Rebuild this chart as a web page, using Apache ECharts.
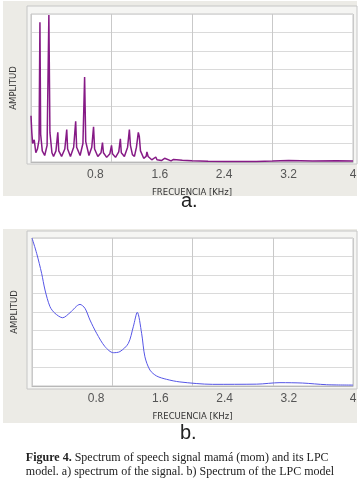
<!DOCTYPE html>
<html>
<head>
<meta charset="utf-8">
<script src="https://cdn.jsdelivr.net/npm/echarts@6/dist/echarts.min.js"></script>
<style>
  html, body { margin: 0; padding: 0; background: #fff; }
  #main { width: 360px; height: 486px; }
</style>
</head>
<body>
<div id="main"></div>
<script>
// a) spectrum of the signal (kHz, amplitude)
var freqA = [0, 0.01, 0.02, 0.04, 0.06, 0.08, 0.1, 0.111, 0.12, 0.14, 0.17, 0.2, 0.222, 0.235, 0.26, 0.28,
  0.31, 0.333, 0.345, 0.38, 0.42, 0.444, 0.455, 0.49, 0.53, 0.555, 0.567, 0.61, 0.645, 0.666, 0.68, 0.72,
  0.755, 0.777, 0.79, 0.83, 0.87, 0.888, 0.9, 0.94, 0.98, 1.0, 1.012, 1.05, 1.09, 1.11, 1.122, 1.16,
  1.2, 1.222, 1.235, 1.26, 1.285, 1.31, 1.333, 1.345, 1.36, 1.4, 1.43, 1.44, 1.455, 1.5, 1.55, 1.565,
  1.62, 1.66, 1.675, 1.74, 1.77, 1.79, 1.88, 1.9, 2.0, 2.2, 2.4, 2.8, 3.0, 3.2, 3.5, 3.8, 4.0];
var ampA = [2.5, 1.6, 1.0, 1.2, 0.5, 0.7, 1.2, 7.55, 1.5, 0.6, 0.35, 0.9, 7.95, 1.6, 0.5, 0.3,
  0.6, 1.6, 0.6, 0.3, 0.7, 1.75, 0.7, 0.3, 0.8, 2.2, 0.8, 0.35, 1.0, 4.6, 1.1, 0.35,
  0.8, 1.9, 0.7, 0.3, 0.5, 1.05, 0.5, 0.25, 0.45, 0.9, 0.45, 0.25, 0.55, 1.25, 0.5, 0.3,
  0.8, 1.75, 0.9, 0.4, 0.3, 0.8, 1.6, 1.4, 0.6, 0.2, 0.3, 0.55, 0.3, 0.12, 0.27, 0.12,
  0.08, 0.2, 0.1, 0.06, 0.14, 0.06, 0.1, 0.05, 0.07, 0.04, 0.03, 0.03, 0.05, 0.08, 0.06, 0.07, 0.05];

// b) spectrum of the LPC model
var freqB = [0, 0.058, 0.12, 0.162, 0.224, 0.286, 0.382, 0.473, 0.598, 0.66, 0.722, 0.805, 0.909,
  1.013, 1.096, 1.2, 1.262, 1.312, 1.366, 1.407, 1.47, 1.553, 1.677, 1.843, 2.25, 2.8, 3.09, 3.37, 3.67, 4.0];
var ampB = [8.0, 7.17, 6.09, 5.19, 4.29, 3.93, 3.69, 3.96, 4.41, 4.2, 3.57, 2.85, 2.13,
  1.8, 1.86, 2.3, 3.2, 3.98, 2.85, 1.58, 0.86, 0.54, 0.36, 0.22, 0.09, 0.1, 0.18, 0.16, 0.07, 0.05];

var xLabels = [0.8, 1.6, 2.4, 3.2, 4];

function zip(xs, ys) {
  return xs.map(function (x, i) { return [x, ys[i]]; });
}

var labelFont = 'Liberation Sans Narrow, Liberation Sans, sans-serif';

function labelAxis(idx) {
  return {
    gridIndex: idx, type: 'value', min: 0, max: 4, interval: 0.8,
    axisLine: { show: true, lineStyle: { color: '#b8b8b8' } },
    axisTick: { show: false },
    splitLine: { show: false },
    axisLabel: {
      color: '#555', fontSize: 12, fontFamily: labelFont, margin: 7,
      formatter: function (v) {
        var r = Math.round(v * 10) / 10;
        return xLabels.indexOf(r) >= 0 ? String(r) : '';
      }
    },
    name: 'FRECUENCIA [KHz]', nameLocation: 'middle', nameGap: 26,
    nameTextStyle: { color: '#333', fontSize: 8.5, fontFamily: 'DejaVu Sans' }
  };
}
function gridAxis(idx) {
  return {
    gridIndex: idx, type: 'value', min: 0, max: 4, interval: 1,
    axisLine: { show: false }, axisTick: { show: false }, axisLabel: { show: false },
    splitLine: { show: true, lineStyle: { color: '#c9c9c9', width: 1 } }
  };
}
function yAxis(idx) {
  return {
    gridIndex: idx, type: 'value', min: 0, max: 8, interval: 1,
    axisLine: { show: false }, axisTick: { show: false }, axisLabel: { show: false },
    splitLine: { show: true, lineStyle: { color: '#dadada', width: 1 } },
    name: 'AMPLITUD', nameLocation: 'middle', nameRotate: 90, nameGap: 13,
    nameTextStyle: { color: '#333', fontSize: 8.5, fontFamily: 'DejaVu Sans' }
  };
}

var option = {
  animation: false,
  backgroundColor: '#fff',
  grid: [
    { left: 31, top: 14, width: 322, height: 148, show: true, backgroundColor: '#fff', borderColor: '#c4c4c4', borderWidth: 1 },
    { left: 32, top: 238, width: 321, height: 148, show: true, backgroundColor: '#fff', borderColor: '#c4c4c4', borderWidth: 1 }
  ],
  xAxis: [labelAxis(0), gridAxis(0), labelAxis(1), gridAxis(1)],
  yAxis: [yAxis(0), yAxis(1)],
  graphic: [
    // grey panels and plot frames
    { type: 'rect', z: -10, shape: { x: 3, y: 1, width: 354, height: 195 }, style: { fill: '#ecebe6' } },
    { type: 'rect', z: -9, shape: { x: 27, y: 6, width: 330, height: 158 }, style: { fill: '#f5f5f3', stroke: '#c6c6c6', lineWidth: 1 } },
    { type: 'rect', z: -10, shape: { x: 3, y: 229, width: 354, height: 194 }, style: { fill: '#ecebe6' } },
    { type: 'rect', z: -9, shape: { x: 27, y: 231, width: 330, height: 158 }, style: { fill: '#f5f5f3', stroke: '#c6c6c6', lineWidth: 1 } },
    { type: 'text', left: 181, top: 191, style: { text: 'a.', fontSize: 20, fontFamily: 'Liberation Sans', fill: '#222' } },
    { type: 'text', left: 180, top: 423, style: { text: 'b.', fontSize: 20, fontFamily: 'Liberation Sans', fill: '#222' } },
    {
      type: 'text', left: 'center', top: 451,
      style: {
        text: '{b|Figure 4.} Spectrum of speech signal mamá (mom) and its LPC\nmodel. a) spectrum of the signal. b) Spectrum of the LPC model',
        align: 'center', fontSize: 12, lineHeight: 14, fontFamily: 'Liberation Serif', fill: '#222',
        rich: { b: { fontWeight: 'bold', fontSize: 12, fontFamily: 'Liberation Serif', fill: '#222' } }
      }
    }
  ],
  series: [
    {
      name: 'a', type: 'line', xAxisIndex: 0, yAxisIndex: 0,
      data: zip(freqA, ampA), showSymbol: false,
      lineStyle: { color: '#861a86', width: 1.5 }
    },
    {
      name: 'b', type: 'line', xAxisIndex: 2, yAxisIndex: 1,
      data: zip(freqB, ampB), showSymbol: false, smooth: 0.3,
      lineStyle: { color: '#5656e6', width: 1 }
    }
  ]
};

var myChart = echarts.init(document.getElementById('main'));
myChart.setOption(option);
</script>
</body>
</html>
